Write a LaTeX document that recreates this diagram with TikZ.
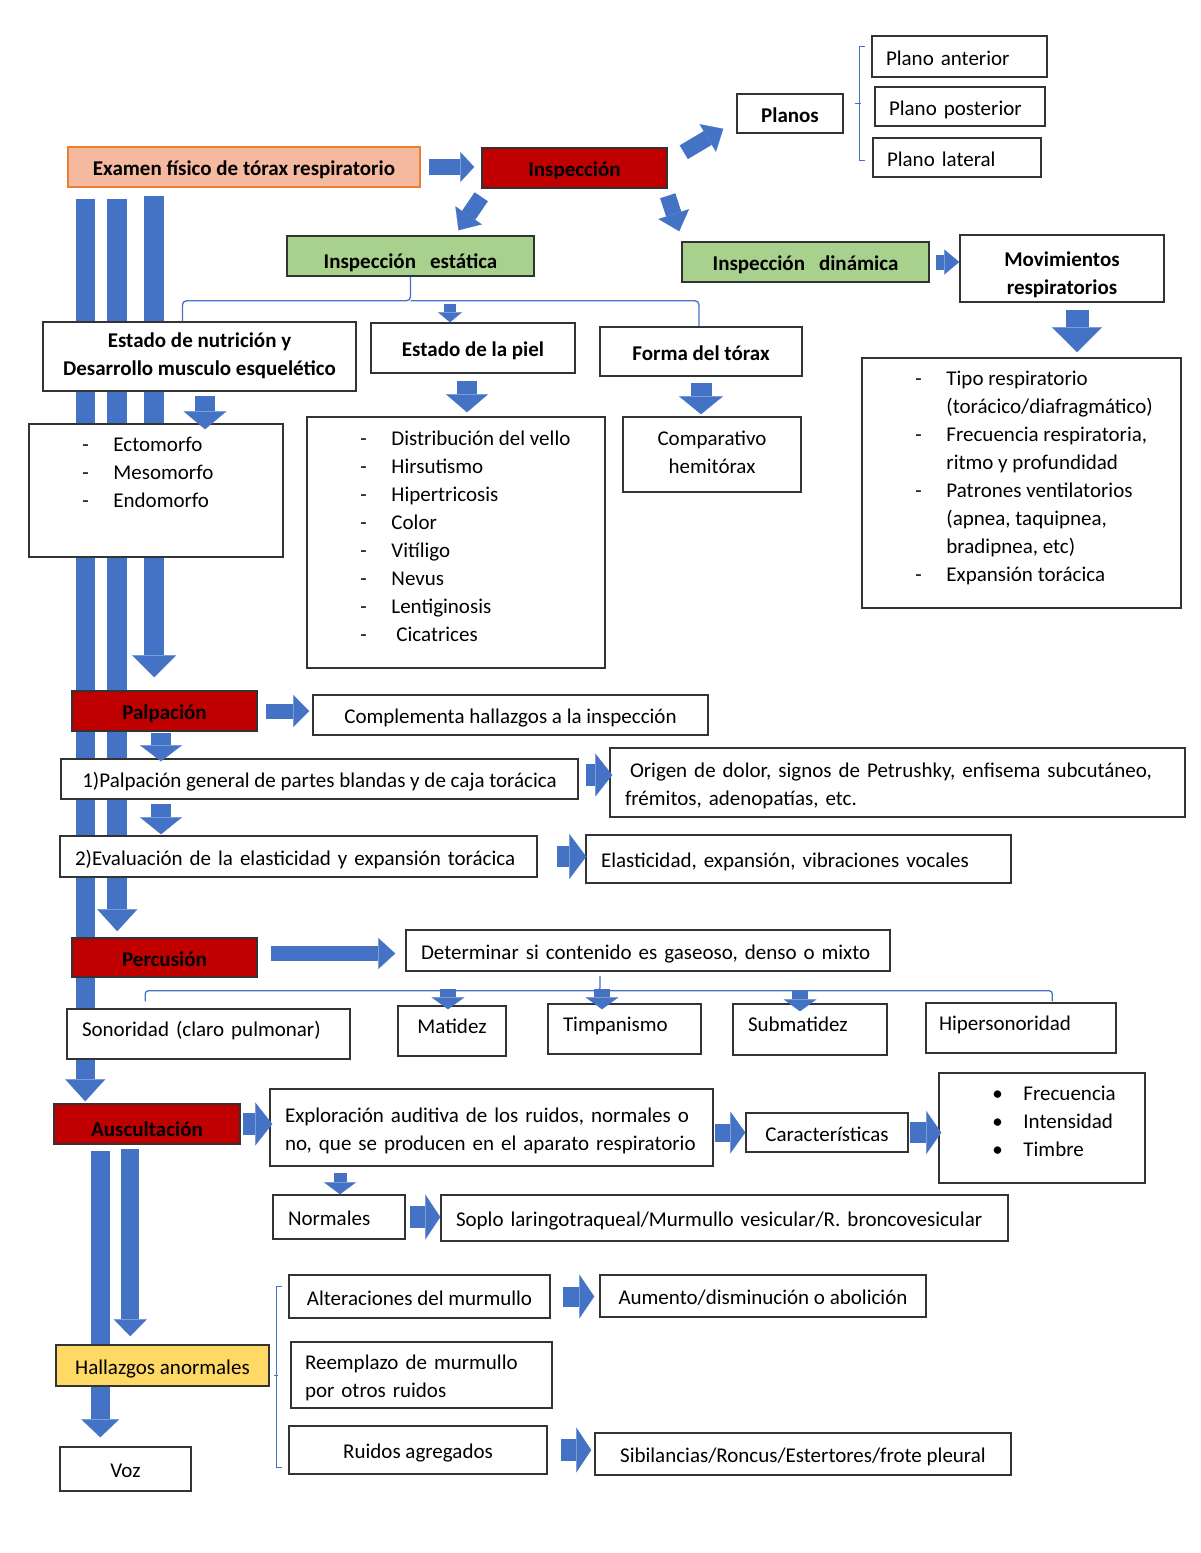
\documentclass[tikz,border=0pt]{standalone}
\usepackage{fontspec}
\setmainfont{Carlito}
\usetikzlibrary{arrows.meta}
\pgfdeclarelayer{bg}
\pgfsetlayers{bg,main}

\definecolor{arrblue}{HTML}{4472C4}
\definecolor{redbox}{HTML}{C00000}
\definecolor{salmon}{HTML}{F5B9A0}
\definecolor{orangeln}{HTML}{ED7D31}
\definecolor{greenbox}{HTML}{A9D18E}
\definecolor{yellowbox}{HTML}{FFD966}
\newcommand{\figfont}{\fontsize{21}{28}\selectfont}
\newcommand{\boxstrut}{\rule[-5.5pt]{0pt}{28pt}}
\newcommand{\lowd}{\rule[-18pt]{0pt}{18pt}}
\newcommand{\hid}{\rule{0pt}{30pt}}

\tikzset{
  box/.style={draw=black!80, line width=1.5pt, fill=white, inner sep=0pt, font=\figfont,
    execute at begin node=\boxstrut, execute at end node=\boxstrut},
  bold/.style={font=\figfont\bfseries},
  sz/.style 2 args={minimum width=#1pt, minimum height=#2pt},
  lt/.style={text width=#1pt, align=left},
  list/.style={inner sep=0pt, anchor=base west, font=\figfont},
  blk/.style n args={3}{draw=arrblue, line width=#1pt,
    -{Triangle[width=#2pt, length=#3pt, line width=0.1pt]}},
  brace/.style={draw=arrblue, line width=1.3pt}
}

\begin{document}
\begin{tikzpicture}[x=1pt, y=-1pt]
\useasboundingbox (0,0) rectangle (1200,1553);

% inspeccion
\node[box, bold, sz={352}{40}, fill=salmon, draw=orangeln] (exam) at (244,167) {Examen físico de tórax respiratorio};
\node[box, bold, sz={185}{40}, fill=redbox] (insp) at (574.5,168) {Inspección};
\node[box, bold, sz={106}{39}] (planos) at (790,113.5) {Planos};
\node[box, sz={175}{41}, lt=147] (pant) at (959.5,56.5) {Plano anterior};
\node[box, sz={170}{39}, lt=142] (ppost) at (960,106.5) {Plano posterior};
\node[box, sz={168}{39}, lt=140] (plat) at (957,157.5) {Plano lateral};
\node[box, bold, sz={247}{40}, fill=greenbox] (estat) at (410.5,256) {\hid Inspección\hspace{14pt}estática};
\node[box, bold, sz={247}{40}, fill=greenbox] (dinam) at (805.5,262) {Inspección\hspace{14pt}dinámica};
\node[box, bold, sz={204}{67}, align=center] (movim) at (1062,268.5) {\hid Movimientos\\respiratorios};
\node[box, bold, sz={313}{69}, align=center] (nutri) at (199.5,356.5) {Estado de nutrición y\\Desarrollo musculo esquelético};
\node[box, bold, sz={204}{50}] (piel) at (473,348) {Estado de la piel};
\node[box, bold, sz={202}{49}] (forma) at (701,351.5) {Forma del tórax};
\node[box, sz={254}{133}] (ecto) at (156,490.5) {};
\node[box, sz={298}{251}] (distr) at (456,542.5) {};
\node[box, sz={178}{75}, align=center] (compar) at (712,454.5) {Comparativo\\hemitórax};
\node[box, sz={319}{250}] (tipo) at (1021.5,483) {};

\node[list] (ectol) at ([shift={(54,28)}]ecto.north west)
  {\begin{tabular}[t]{@{}p{31pt}@{}l@{}}
  - & Ectomorfo\\ - & Mesomorfo\\ - & Endomorfo
  \end{tabular}};
\node[list] (distrl) at ([shift={(54,29)}]distr.north west)
  {\begin{tabular}[t]{@{}p{31pt}@{}l@{}}
  - & Distribución del vello\\ - & Hirsutismo\\ - & Hipertricosis\\ - & Color\\
  - & Vitíligo\\ - & Nevus\\ - & Lentiginosis\\ - & \hspace{5pt}Cicatrices
  \end{tabular}};
\node[list] (tipol) at ([shift={(54,28)}]tipo.north west)
  {\begin{tabular}[t]{@{}p{31pt}@{}l@{}}
  - & Tipo respiratorio\\ & (torácico/diafragmático)\\
  - & Frecuencia respiratoria,\\ & ritmo y profundidad\\
  - & Patrones ventilatorios\\ & (apnea, taquipnea,\\ & bradipnea, etc)\\
  - & Expansión torácica
  \end{tabular}};

% palpacion
\node[box, bold, sz={185}{40}, fill=redbox] (palp) at (164.5,711) {Palpación};
\node[box, sz={395}{40}] (compl) at (510.5,715) {Complementa hallazgos a la inspección};
\node[box, sz={517}{40}] (pgen) at (319.5,779) {1)Palpación general de partes blandas y de caja torácica};
\node[box, sz={575}{69}, lt=545] (origen) at (897.5,782.5) {\hspace*{5pt}Origen de dolor, signos de Petrushky, enfisema subcutáneo,\\frémitos, adenopatías, etc.};
\node[box, sz={477}{41}, lt=447] (peval) at (298.5,856.5) {\mbox{2)Evaluación de la elasticidad y expansión torácica}};
\node[box, sz={425}{48}, lt=395] (elast) at (798.5,859) {Elasticidad, expansión, vibraciones vocales};

% percusion
\node[box, bold, sz={185}{39}, fill=redbox] (perc) at (164.5,957.5) {Percusión};
\node[box, sz={484}{41}, lt=454] (deter) at (648,950.5) {\mbox{Determinar si contenido es gaseoso, denso o mixto}};
\node[box, sz={283}{50}, lt=253] (sono) at (208.5,1034) {Sonoridad (claro pulmonar)\lowd};
\node[box, sz={108}{50}] (mati) at (452,1031) {Matidez\lowd};
\node[box, sz={153}{50}, lt=123] (timp) at (624.5,1029) {Timpanismo\lowd};
\node[box, sz={154}{51}, lt=124] (subm) at (810,1029.5) {Submatidez\lowd};
\node[box, sz={190}{50}, lt=164] (hiper) at (1021,1028) {Hipersonoridad\lowd};

% auscultacion
\node[box, bold, sz={186}{40}, fill=redbox] (ausc) at (147,1124) {\hid Auscultación};
\node[box, sz={443}{77}, lt=413] (explo) at (491.5,1127.5) {Exploración auditiva de los ruidos, normales o\\no, que se producen en el aparato respiratorio};
\node[box, sz={162}{39}] (caract) at (827,1132.5) {Características};
\node[box, sz={206}{110}] (frec) at (1042,1128) {};
\node[list] (frecl) at ([shift={(54,28)}]frec.north west)
  {\begin{tabular}[t]{@{}p{31pt}@{}l@{}}
  • & Frecuencia\\ • & Intensidad\\ • & Timbre
  \end{tabular}};
\node[box, sz={132}{44}, lt=102] (normal) at (339,1217) {Normales};
\node[box, sz={567}{46}, lt=537] (soplo) at (724.5,1218) {\mbox{Soplo laringotraqueal/Murmullo vesicular/R. broncovesicular}};
\node[box, sz={261}{43}] (alter) at (419.5,1296.5) {Alteraciones del murmullo};
\node[box, sz={326}{42}] (aument) at (763,1296) {Aumento/disminución o abolición};
\node[box, sz={261}{66}, lt=233] (reempl) at (421.5,1375) {Reemplazo de murmullo\\por otros ruidos};
\node[box, sz={258}{48}] (ruidos) at (418,1450) {Ruidos agregados};
\node[box, sz={416}{42}] (sibil) at (803,1454) {Sibilancias/Roncus/Estertores/frote pleural};
\node[box, sz={213}{41}, fill=yellowbox] (hallaz) at (162.5,1365.5) {Hallazgos anormales};
\node[box, sz={131}{44}] (voz) at (125.5,1469) {Voz};

% barras verticales detras de las cajas
\begin{pgfonlayer}{bg}
  \coordinate (bA) at ([shift={(18,11)}]exam.south west);
  \coordinate (bB) at ([shift={(50,11)}]exam.south west);
  \coordinate (bC) at ([shift={(87,8)}]exam.south west);
  \coordinate (bD) at ([shift={(47,6)}]ausc.south west);
  \coordinate (bE) at ([shift={(77,4)}]ausc.south west);
  \draw[blk={19}{40}{22}, shorten >=2pt] (bA) -- (bA |- ausc.north);
  \draw[blk={20}{40}{22}, shorten >=6pt] (bB) -- (bB |- perc.north);
  \draw[blk={20}{44}{22}, shorten >=13pt] (bC) -- (bC |- palp.north);
  \draw[blk={19}{38}{18}, shorten >=9pt] (bD) -- (bD |- voz.north);
  \draw[blk={18}{33}{17}, shorten >=8pt] (bE) -- (bE |- hallaz.north);
\end{pgfonlayer}

% flechas
\draw[blk={16}{30}{14}, shorten <=8pt, shorten >=7pt] (exam.east) -- (exam.east -| insp.west);
\draw[blk={16}{32}{18}] ([shift={(16,5)}]insp.north east) -- ([shift={(-13,-5)}]planos.south west);
\draw[blk={16}{32}{18}] ([shift={(0,8)}]insp.south west) -- ([shift={(48,-5)}]estat.north);
\draw[blk={16}{32}{18}] ([shift={(0,7)}]insp.south east) -- ([shift={(-2,-10)}]dinam.north west);
\draw[blk={15}{25}{15}, shorten <=6pt] (dinam.east) -- (dinam.east -| movim.west);
\draw[blk={23}{50}{25}] ([shift={(15,7)}]movim.south) -- ([shift={(55.5,-5)}]tipo.north);
\draw[blk={20}{43}{18}] ([shift={(5.5,4)}]nutri.south) -- ([shift={(49,6)}]ecto.north);
\draw[blk={20}{42}{18}] ([shift={(-6,7)}]piel.south) -- ([shift={(11,-4)}]distr.north);
\draw[blk={21}{44}{18}] ([shift={(0,6)}]forma.south) -- ([shift={(-11,-2)}]compar.north);
\draw[blk={12}{24}{10}] ([shift={(39.5,27)}]estat.south) -- ([shift={(-23,0)}]piel.north);

\draw[blk={15}{32}{16}, shorten <=8pt, shorten >=3pt] (palp.east) -- (palp.east -| compl.west);
\draw[blk={20}{42}{16}] ([shift={(-3.5,1)}]palp.south) -- ([shift={(-158.5,3)}]pgen.north);
\draw[blk={20}{42}{17}] ([shift={(-158.5,4)}]pgen.south) -- ([shift={(-137.5,-1)}]peval.north);
\draw[blk={22}{43}{17}, shorten <=7pt, shorten >=-3pt] ([shift={(0,-4)}]pgen.east) -- ([shift={(0,-4)}]pgen.east -| origen.west);
\draw[blk={21}{45}{17}, shorten <=19pt, shorten >=-1pt] (peval.east) -- (peval.east -| elast.west);

\draw[blk={15}{31}{17}, shorten <=13pt, shorten >=10pt] ([shift={(0,-4)}]perc.east) -- ([shift={(0,-4)}]perc.east -| deter.west);
\draw[blk={16}{33}{12}] ([shift={(-200,17)}]deter.south) -- ([shift={(-4,4)}]mati.north);
\draw[blk={16}{33}{12}] ([shift={(-46,17)}]deter.south) -- ([shift={(-22.5,6)}]timp.north);
\draw[blk={16}{33}{12}] ([shift={(152,19)}]deter.south) -- ([shift={(-10,8)}]subm.north);

\draw[blk={22}{43}{17}, shorten <=2pt, shorten >=-3pt] (ausc.east) -- (ausc.east -| explo.west);
\draw[blk={18}{42}{15}, shorten <=1pt] (caract.west -| explo.east) -- (caract.west);
\draw[blk={21}{43}{15}, shorten <=1pt, shorten >=-3pt] (caract.east) -- (caract.east -| frec.west);
\draw[blk={13}{32}{12}] ([shift={(-151.5,6)}]explo.south) -- ([shift={(1,0)}]normal.north);
\draw[blk={22}{45}{15}, shorten <=4pt] (normal.east) -- (normal.east -| soplo.west);
\draw[blk={20}{44}{15}, shorten <=12pt, shorten >=5pt] (alter.east) -- (alter.east -| aument.west);
\draw[blk={22}{45}{15}, shorten <=13pt, shorten >=3pt] (ruidos.east) -- (ruidos.east -| sibil.west);

% llaves
\draw[brace] ([shift={(-6,11)}]pant.north west) -- ++(-6,0) |- ([shift={(-7,-17)}]plat.south west);
\draw[brace] ([shift={(11,-10)}]planos.east) -- ++(6,0);
\draw[brace, rounded corners=4pt] ([shift={(-17,0)}]nutri.north) |- ([shift={(0,24)}]estat.south) -- (estat.south);
\draw[brace, rounded corners=4pt] ([shift={(-2,0)}]forma.north) |- ([shift={(0,24)}]estat.south);
\draw[brace, rounded corners=3pt] ([shift={(79,-7)}]sono.north west) |- ([shift={(-48,19)}]deter.south) -- ([shift={(-48,4)}]deter.south);
\draw[brace, rounded corners=3pt] ([shift={(127,-1)}]hiper.north west) |- ([shift={(-48,19)}]deter.south);
\draw[brace] ([shift={(-6,12)}]alter.north west) -- ++(-6,0) |- ([shift={(-6,-7)}]ruidos.south west);
\draw[brace] ([shift={(4,10)}]hallaz.east) -- ++(4,0);

\end{tikzpicture}
\end{document}
